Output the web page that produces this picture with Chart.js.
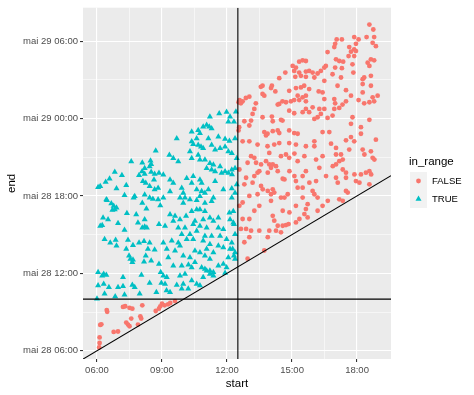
<!DOCTYPE html>
<html>
<head>
<meta charset="utf-8">
<script src="https://cdn.jsdelivr.net/npm/chart.js@4.4.1/dist/chart.umd.min.js"></script>
<style>
  body { margin: 0; background: #fff; font-family: "Liberation Sans", Arial, sans-serif; }
  #wrap { position: relative; width: 474px; height: 395px; }
  #plot { position: absolute; left: 0; top: 0; }
  .lg { position: absolute; white-space: nowrap; }
  .lg-title { left: 409px; top: 155px; font-size: 11.5px; color: #000; }
  .lg-key { left: 410px; width: 17px; height: 18px; background: #f2f2f2; }
  .lg-label { left: 432px; font-size: 9.5px; color: #000; line-height: 18px; }
</style>
</head>
<body>
<div id="wrap">
  <canvas id="plot" width="474" height="395"></canvas>
  <div class="lg lg-title">in_range</div>
  <div class="lg lg-key" style="top:172px">
    <svg width="17" height="18"><circle cx="8.5" cy="9" r="2.4" fill="#F8766D"/></svg>
  </div>
  <div class="lg lg-label" style="top:172px">FALSE</div>
  <div class="lg lg-key" style="top:190px">
    <svg width="17" height="18"><polygon points="8.5,5.6 11.5,10.8 5.5,10.8" fill="#00BFC4"/></svg>
  </div>
  <div class="lg lg-label" style="top:190px">TRUE</div>
</div>
<script>
// start / end in hours, counted from mai 28 00:00
const xMajor = [6, 9, 12, 15, 18];
const xMinor = [7.5, 10.5, 13.5, 16.5];
const yMajor = [6, 12, 18, 24, 30];
const yMinor = [9, 15, 21, 27];
const xMin = 5.354, xMax = 19.567;
const yMin = 5.36, yMax = 32.59;
const startCut = 12.5;   // vertical line
const endCut = 10;       // horizontal line

// in_range == FALSE  [start, end]
const falsePoints = [
  [6.1,6.25],[6.12,6.6],[6.12,7.03],[6.15,8.0],[6.2,8.05],[6.45,9.15],[6.47,9.02],[6.77,7.46],
  [6.97,7.49],[7.2,9.4],[7.3,9.45],[7.35,8.18],[7.43,8.03],[7.5,7.9],[7.5,9.33],[7.63,9.26],
  [7.58,8.49],[7.89,8.03],[8.0,8.67],[8.04,8.49],[8.09,9.52],[8.71,9.08],[8.86,9.26],[8.92,9.44],
  [9.0,9.65],[9.12,9.52],[9.28,9.6],[9.38,9.7],[9.6,9.85],
  [18.57,31.28],[18.75,30.9],[17.87,30.31],[18.07,30.13],[18.44,30.31],[18.79,30.31],[17.06,30.13],
  [17.3,30.13],[16.99,29.79],[16.95,29.54],[17.64,29.54],[17.95,29.79],[18.72,29.87],[18.87,29.61],
  [17.87,29.36],[17.72,29.18],[17.95,29.23],[16.64,29.15],[17.61,28.84],[17.87,28.84],[18.64,28.59],
  [18.79,28.51],[18.49,28.33],[18.57,28.08],[17.03,28.59],[17.18,28.46],[17.36,28.41],[15.49,28.51],
  [15.64,28.46],[15.33,28.41],[15.03,28.08],[15.18,27.95],[15.1,27.69],[15.33,27.56],[15.41,27.31],
  [15.64,27.64],[15.79,27.69],[15.95,27.56],[16.18,27.49],[16.33,27.69],[16.49,27.95],[16.56,28.08],
  [16.99,27.95],[17.3,27.9],[17.79,28.2],[17.83,27.56],[16.87,27.43],[17.26,27.18],[14.69,27.56],
  [14.41,27.13],[15.15,27.23],[15.64,27.23],[16.03,27.18],[16.49,26.92],[18.26,27.05],[18.33,27.18],
  [18.64,27.31],[18.26,26.67],[18.64,26.54],[18.95,25.77],[18.72,25.64],[18.79,25.33],[18.57,25.26],
  [18.33,25.18],[18.07,25.43],[18.26,26.02],[17.72,25.77],[17.49,26.2],[17.1,26.54],[17.49,25.33],
  [17.33,25.08],[16.95,25.51],[16.99,25.18],[16.49,25.51],[16.41,26.02],[16.23,26.1],[15.79,26.28],
  [15.56,26.54],[15.41,26.41],[15.18,26.36],[14.87,26.15],[15.64,25.77],[15.49,25.64],[15.26,25.77],
  [15.33,25.43],[15.64,25.33],[15.1,25.43],[14.95,25.33],[14.72,25.26],[14.56,25.33],[14.41,25.13],
  [14.34,25.08],[13.64,26.54],[13.56,26.46],[14.07,26.54],[14.03,26.36],[14.23,26.1],[13.64,25.9],
  [13.72,25.77],[13.33,25.18],[13.26,24.74],[13.18,24.36],[13.03,25.69],[12.87,25.59],[12.72,25.33],
  [12.64,25.18],[12.58,25.43],[12.53,25.26],[14.87,24.61],[15.1,24.41],[15.49,24.49],[15.64,24.74],
  [15.79,24.49],[15.95,24.87],[16.26,24.74],[16.33,24.36],[16.49,24.74],[16.18,24.1],[16.03,23.97],
  [16.64,24.05],[16.87,24.23],[16.95,24.74],[17.18,24.82],[17.79,24.1],[17.72,23.59],[18.18,23.33],
  [18.57,23.9],[14.49,23.9],[14.56,23.84],[14.11,23.79],[14.07,24.15],[13.64,24.1],[13.11,23.84],
  [12.8,23.79],[13.03,23.46],[12.56,23.33],[12.53,23.08],[13.72,22.95],[13.87,22.82],[13.8,22.69],
  [14.11,23.02],[14.34,23.08],[14.41,22.87],[15.1,22.87],[15.26,22.82],[14.87,23.08],[16.41,22.95],
  [16.72,22.95],[17.49,22.31],[17.72,22.56],[18.18,22.82],[18.87,22.36],
  [12.72,22.23],[13.03,22.23],[13.41,21.98],[13.87,21.85],[13.95,21.33],[14.18,21.98],[14.41,22.1],
  [14.87,22.1],[15.18,21.98],[15.64,21.85],[16.03,22.23],[16.03,21.85],[16.8,22.05],[17.03,21.72],
  [17.03,21.21],[17.26,21.21],[17.34,20.82],[17.18,20.69],[17.64,21.59],[17.87,22.23],[18.26,21.59],
  [18.34,21.21],[18.64,21.46],[18.72,20.95],[18.8,20.82],[13.11,21.08],[13.26,20.95],[12.95,20.57],
  [13.34,20.57],[13.57,20.44],[13.8,20.69],[13.95,20.44],[14.11,20.44],[14.26,20.31],[14.49,21.08],
  [14.72,21.21],[14.87,20.95],[15.11,21.28],[15.26,20.69],[15.57,21.08],[16.11,20.82],[16.41,21.08],
  [16.26,20.18],[16.88,20.31],[17.03,20.44],[17.34,20.05],[17.49,19.8],[12.57,20.05],[12.88,19.41],
  [13.26,19.54],[13.41,19.8],[13.49,19.92],[13.88,19.8],[14.03,20.18],[14.34,19.92],[14.57,19.33],
  [14.65,19.28],[14.88,19.92],[15.11,19.54],[15.18,19.15],[15.49,19.54],[15.64,19.92],[15.8,19.03],
  [16.11,19.15],[16.57,19.54],[17.03,19.41],[17.11,19.03],[17.49,19.41],[17.88,19.67],[18.18,19.67],
  [18.41,19.8],[18.57,19.92],[18.65,19.67],[17.95,19.15],[18.11,19.03],[18.57,18.9],[12.8,18.9],
  [13.18,19.03],[13.57,18.77],[13.65,18.51],[13.88,18.39],[14.03,18.13],[14.18,18.26],[14.11,18.51],
  [13.41,18.13],[13.03,18.0],[12.72,17.49],[12.57,17.23],[13.49,17.23],[14.03,17.62],[14.49,17.87],
  [14.65,17.87],[14.8,18.13],[15.26,18.64],[15.49,18.64],[15.95,18.39],[16.03,18.13],[16.18,17.87],
  [15.49,17.87],[15.72,17.36],[15.64,16.98],[15.57,16.59],[15.18,17.23],[14.88,16.72],[14.57,16.85],
  [14.11,16.46],[14.18,16.08],[14.34,15.69],[14.57,15.69],[14.72,15.74],[14.84,15.82],[14.26,15.31],
  [13.95,15.31],[14.49,15.18],[15.18,15.95],[15.34,16.21],[15.72,16.33],[16.18,16.85],[16.41,17.23],
  [16.65,17.62],[17.18,17.74],[17.34,17.62],[17.49,18.39],[17.57,18.26],[13.26,16.85],[13.03,16.21],
  [12.72,16.21],[12.64,15.44],[12.88,15.44],[13.11,15.31],[13.49,15.31],[13.03,14.8],[12.8,14.41],
  [13.88,14.8],[13.72,13.77],[12.95,13.13]
];

// in_range == TRUE  [start, end]
const truePoints = [
  [8.71,21.5],[7.58,20.67],[8.09,20.57],[8.47,20.72],[8.5,20.46],[8.43,20.28],[8.2,20.15],[8.08,19.9],
  [7.94,19.6],[8.2,19.7],[8.5,19.85],[8.66,19.7],[8.86,19.77],[6.82,19.85],[7.15,19.6],[6.58,19.34],
  [6.4,19.08],[6.15,18.75],[6.05,18.67],[6.9,18.57],[7.35,18.82],[8.12,19.13],[8.25,19.0],[8.63,19.26],
  [8.43,18.75],[8.66,18.49],[8.82,18.62],[6.43,17.72],[7.27,18.05],[7.74,17.98],[8.2,18.1],[8.43,17.85],
  [8.82,17.72],
  [6.46,17.67],[6.66,17.41],[6.77,17.21],[6.82,16.95],[6.71,16.9],[6.9,17.08],[7.69,17.85],[8.09,17.46],
  [8.28,17.0],[8.58,17.77],[8.92,17.26],[6.28,16.31],[6.51,16.18],[6.15,15.67],[6.24,15.72],[6.97,15.88],
  [7.27,15.36],[7.38,16.65],[7.81,16.57],[7.89,15.92],[8.2,16.18],[8.09,15.54],[8.2,15.62],[8.3,15.54],
  [8.86,15.8],[6.35,14.65],[6.61,14.38],[6.9,14.13],[6.86,14.59],[7.43,14.59],[7.35,13.88],[7.66,14.18],
  [7.94,14.38],[8.17,14.49],[8.43,14.38],[8.35,13.88],[8.66,13.82],[7.48,13.36],[7.54,13.11],[7.66,13.05],
  [7.63,12.85],[8.25,13.36],[8.17,12.9],[8.5,12.98],[8.86,12.72],[6.05,12.08],[6.31,11.95],[6.24,11.82],
  [6.43,11.88],[7.2,11.69],[8.05,11.88],[8.94,12.08],[6.05,11.05],[6.31,11.18],[6.55,10.92],[6.97,10.92],
  [7.2,11.0],[7.63,11.1],[7.74,10.92],[8.43,11.26],[8.97,11.26],[6.35,10.42],[7.27,10.34],[7.97,10.42],
  [8.74,10.54],[6.0,10.03],[6.84,10.2],
  [11.21,24.13],[11.64,24.38],[11.98,24.5],[12.14,24.13],[12.06,23.75],[11.06,23.49],[11.18,23.36],
  [11.29,23.23],[10.9,23.36],[10.67,23.1],[10.37,22.98],[10.75,22.85],[10.6,22.46],[11.14,22.46],
  [11.6,22.59],[11.91,22.42],[12.11,22.26],[12.37,22.46],[9.68,22.46],[10.37,22.21],[10.44,22.0],
  [10.67,21.95],[10.8,21.82],[10.9,21.69],[11.29,21.95],[11.45,21.57],[11.68,21.69],[11.91,21.82],
  [12.06,21.44],[12.22,21.31],[9.34,21.18],[9.52,20.92],[9.75,20.67],[10.29,21.44],[10.37,20.92],
  [10.67,21.18],[10.75,20.8],[10.98,20.8],[11.21,20.54],[11.37,20.42],[11.68,20.28],[11.06,20.15],
  [11.29,20.03],[11.45,19.9],[11.75,19.77],[11.91,19.9],[12.06,19.77],[12.22,20.03],[9.06,19.65],
  [9.37,19.26],[9.52,19.0],[10.14,19.38],[10.37,19.0],[10.44,19.52],[10.75,19.26],[10.83,19.0],
  [11.45,19.13],[9.37,18.34],[9.91,18.62],[9.98,18.23],[10.6,18.49],[10.83,18.36],[10.98,18.23],
  [11.14,18.49],[11.83,18.49],[12.22,18.57],[12.45,18.88],[9.06,17.85],[9.83,17.85],[10.29,17.72],
  [10.75,17.98],[11.37,17.85],
  [10.06,17.85],[9.98,17.46],[10.6,17.67],[10.98,17.46],[11.29,17.59],[12.22,17.85],[12.11,16.69],
  [10.37,16.82],[10.6,16.95],[10.75,16.95],[10.98,16.82],[9.37,16.57],[9.6,16.44],[9.52,16.05],
  [9.83,16.18],[10.11,16.44],[10.52,16.05],[10.9,16.18],[11.21,16.31],[11.37,16.05],[11.6,16.31],
  [12.14,16.18],[12.29,15.92],[9.14,15.67],[9.75,15.54],[10.06,15.54],[10.44,15.8],[10.75,15.67],
  [11.06,15.54],[11.6,15.54],[11.83,15.42],[9.91,15.03],[10.29,15.03],[10.6,15.28],[10.98,14.9],
  [11.29,14.9],[11.68,14.9],[11.98,14.65],[9.06,14.38],[9.45,14.52],[9.75,14.38],[9.83,14.13],
  [10.14,14.65],[10.44,14.65],[10.9,14.52],[11.21,14.26],[11.6,14.13],[12.22,14.38],[9.22,13.88],
  [9.6,13.75],[10.52,13.75],[10.75,13.62],[11.06,13.88],[11.37,13.62],[11.83,14.0],[12.14,13.88],
  [12.37,13.62],[9.29,13.23],[9.98,13.36],[10.29,13.23],[10.98,13.36],[11.21,13.11],[12.06,13.23],
  [12.37,13.11],[9.52,12.59],[9.91,12.59],[10.52,12.85],[10.83,12.46],[11.06,12.21],[11.21,12.21],
  [11.6,12.59],[11.98,12.46],[9.22,11.69],[9.83,11.82],[10.06,11.95],[10.9,11.69],[11.37,11.82],
  [11.91,12.03],[9.14,11.18],[9.68,11.1],[10.37,11.44],[10.6,11.18],[9.37,10.54],[9.91,10.8],
  [10.21,10.8],
  [10.22,12.67],[10.37,12.46],[10.98,12.34],[11.21,11.95],[11.37,12.08],[10.75,11.05],[9.98,11.18],
  [9.21,10.67],[9.06,11.82],[11.83,12.72],
  [12.37,18.23],[12.29,16.82],[12.32,15.8],[12.37,15.03],[12.26,13.88],[12.32,13.36],[12.41,24.52],
  [12.32,23.75],[12.45,20.92],[12.37,20.15],[12.23,19.67]
];

const FONT = '"Liberation Sans", Arial, sans-serif';

function hhmm(h) {
  const mins = Math.round(h * 60);
  const hh = Math.floor(mins / 60) % 24;
  const mm = mins % 60;
  return String(hh).padStart(2, '0') + ':' + String(mm).padStart(2, '0');
}

function dayLabel(h) {
  return 'mai ' + (28 + Math.floor(h / 24)) + ' ' + hhmm(h);
}

function toXY(p) { return { x: p[0], y: p[1] }; }

const panelBg = {
  id: 'panelBg',
  beforeDraw(chart) {
    const { ctx, chartArea: a } = chart;
    ctx.save();
    ctx.fillStyle = '#EBEBEB';
    ctx.fillRect(a.left, a.top, a.width, a.height);
    ctx.restore();
  }
};

function axisGrid(major) {
  return {
    color: '#FFFFFF',
    lineWidth: c => (c.tick && major.includes(c.tick.value)) ? 1.1 : 0.55,
    tickLength: 3,
    tickWidth: 1.1,
    tickColor: c => (c.tick && major.includes(c.tick.value)) ? '#333333' : 'rgba(0,0,0,0)'
  };
}

function refLine(points) {
  return {
    data: points,
    showLine: true,
    borderColor: '#000000',
    borderWidth: 1.1,
    pointRadius: 0,
    order: 0
  };
}

new Chart(document.getElementById('plot'), {
  type: 'scatter',
  data: {
    datasets: [
      refLine([{ x: startCut, y: yMin }, { x: startCut, y: yMax }]),
      refLine([{ x: xMin, y: endCut }, { x: xMax, y: endCut }]),
      refLine([{ x: xMin, y: xMin }, { x: xMax, y: xMax }]),
      {
        label: 'FALSE',
        data: falsePoints.map(toXY),
        pointStyle: 'circle',
        pointRadius: 2.4,
        backgroundColor: '#F8766D',
        borderColor: '#F8766D',
        borderWidth: 0,
        pointBorderWidth: 0,
        order: 1
      },
      {
        label: 'TRUE',
        data: truePoints.map(toXY),
        pointStyle: 'triangle',
        pointRadius: 3.5,
        backgroundColor: '#00BFC4',
        borderColor: '#00BFC4',
        borderWidth: 0,
        pointBorderWidth: 0,
        order: 1
      }
    ]
  },
  options: {
    responsive: false,
    animation: false,
    events: [],
    layout: { padding: { top: 5, right: 83, left: 0, bottom: 0 } },
    plugins: { legend: { display: false }, tooltip: { enabled: false } },
    scales: {
      x: {
        type: 'linear',
        min: xMin,
        max: xMax,
        afterBuildTicks: s => { s.ticks = xMajor.concat(xMinor).sort((a, b) => a - b).map(v => ({ value: v })); },
        afterFit: s => { s.height = 36; },
        border: { display: false },
        grid: axisGrid(xMajor),
        ticks: {
          autoSkip: false,
          maxRotation: 0,
          padding: 3,
          color: '#4D4D4D',
          font: { family: FONT, size: 9.5 },
          callback: v => xMajor.includes(v) ? hhmm(v) : ''
        },
        title: {
          display: true, text: 'start', color: '#000000',
          font: { family: FONT, size: 11.5 }, padding: { top: 0, bottom: 4 }
        }
      },
      y: {
        type: 'linear',
        min: yMin,
        max: yMax,
        afterBuildTicks: s => { s.ticks = yMajor.concat(yMinor).sort((a, b) => a - b).map(v => ({ value: v })); },
        afterFit: s => { s.width = 83; },
        border: { display: false },
        grid: axisGrid(yMajor),
        ticks: {
          autoSkip: false,
          padding: 2,
          color: '#4D4D4D',
          font: { family: FONT, size: 9.5 },
          callback: v => yMajor.includes(v) ? dayLabel(v) : ''
        },
        title: {
          display: true, text: 'end', color: '#000000',
          font: { family: FONT, size: 11.5 }, padding: { top: 5, bottom: 0 }
        }
      }
    }
  },
  plugins: [panelBg]
});
</script>
</body>
</html>
